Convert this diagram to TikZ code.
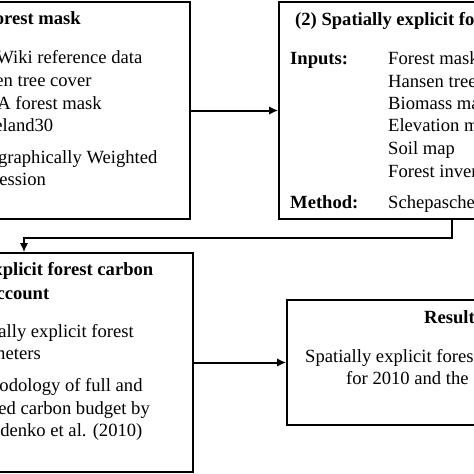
\documentclass[tikz,border=0pt]{standalone}
\usepackage{fontspec}
\setmainfont{Liberation Serif}
\usetikzlibrary{arrows.meta}

\begin{document}
\begin{tikzpicture}[x=1pt,y=-1pt]
    \tikzstyle{every node}=[font={\fontsize{18.6}{22.7}\selectfont}]
    \tikzstyle{panel}=[draw, line width=1.8pt, inner sep=0pt]
    \tikzstyle{txt}=[anchor=base west, inner sep=0pt]
    \tikzstyle{head}=[txt, font={\fontsize{18.6}{22.7}\selectfont\bfseries}]
    \tikzstyle{link}=[line width=2pt, -{Latex[length=9pt,width=8.5pt]}]
    \useasboundingbox (0,0) rectangle (474,474);
    \clip (0,0) rectangle (474,474);
    % panels
    \node[panel, minimum width=310pt, minimum height=217pt] (mask) at (35,110.5) {};
    \node[panel, minimum width=321pt, minimum height=217pt] (param) at (439.5,110.5) {};
    \node[panel, minimum width=313pt, minimum height=219pt] (carbon) at (36.5,362.5) {};
    \node[panel, minimum width=313pt, minimum height=125pt] (result) at (443.5,362.5) {};
    % (1)
    \node[head] (t1) at (-43,24) {(1) Forest mask};
    \node[txt] (m1) at (-41,63) {Geo-Wiki reference data};
    \node[txt] (m2) at (-43,86) {Hansen tree cover};
    \node[txt] (m3) at (-37,109) {JAXA forest mask};
    \node[txt] (m4) at (-43,131) {Globeland30};
    \node[txt] (m5) at (-33,163) {Geographically Weighted};
    \node[txt] (m6) at (-37,185) {Regression};
    % (2)
    \node[head] (t2) at (295,25) {(2) Spatially explicit forest parameters};
    \node[head] (inp) at (290,64) {Inputs:};
    \node[head] (met) at (290,208) {Method:};
    \node[txt] (p1) at (388,64) {Forest mask};
    \node[txt] (p2) at (388,87) {Hansen tree cover};
    \node[txt] (p3) at (388,109) {Biomass map};
    \node[txt] (p4) at (388,131) {Elevation map};
    \node[txt] (p5) at (388,154) {Soil map};
    \node[txt] (p6) at (388,177) {Forest inventory};
    \node[txt] (p7) at (388,208) {Schepaschenko};
    % (3)
    \node[head] (t3a) at (-15,275) {explicit forest carbon};
    \node[head] (t3b) at (-13,299) {account};
    \node[txt] (c1) at (-40,337) {Spatially explicit forest};
    \node[txt] (c2) at (-41,359) {parameters};
    \node[txt] (c3) at (-40,391) {Methodology of full and};
    \node[txt] (c4) at (-42,414) {verified carbon budget by};
    \node[txt] (c5) at (-34,436) {Shvidenko et al. (2010)};
    % results
    \node[head] (t4) at (424,323) {Results};
    \node[txt] (r1) at (305,362) {Spatially explicit forest};
    \node[txt] (r2) at (346,384) {for 2010 and the};
    % links
    \coordinate (drop) at (452,0);
    \coordinate (entry) at (24,0);
    \draw[link] (mask.east) -- (param.west);
    \draw[link] (param.south -| drop) -- ++(0,18) -| (carbon.north -| entry);
    \draw[link] (carbon.east) -- (result.west);
\end{tikzpicture}
\end{document}
